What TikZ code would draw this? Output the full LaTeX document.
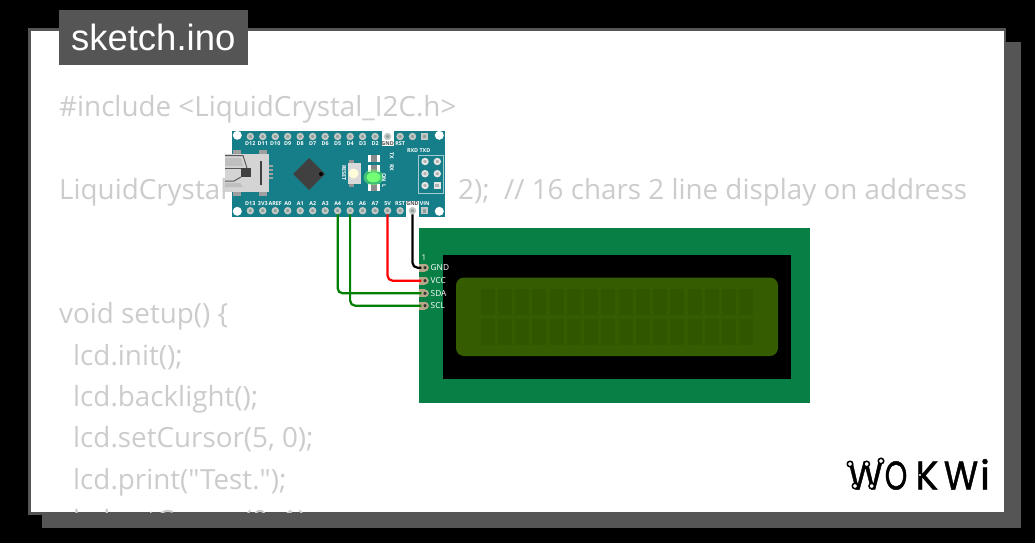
\documentclass[tikz,border=0pt]{standalone}
\usepackage{fontspec}
\setmainfont{Open Sans}
\newfontfamily\codefont{Open Sans}
\newfontfamily\titlefont{Liberation Sans}
\newfontfamily\logofont[FakeBold=1.2]{Poppins}
\definecolor{framegray}{HTML}{555555}
\definecolor{codegray}{HTML}{CCCCCC}
\definecolor{boardteal}{HTML}{167E88}
\definecolor{lcdgreen}{HTML}{087F45}
\definecolor{lcdscreen}{HTML}{355C00}
\definecolor{lcdchar}{HTML}{315600}
\definecolor{padtan}{HTML}{B5A98A}
\definecolor{pingray}{HTML}{C4C8C4}
\definecolor{pincore}{HTML}{8FA0A0}
\definecolor{usbgray}{HTML}{D4D4D4}
\definecolor{wiregreen}{HTML}{008000}
\tikzset{
  code/.style={anchor=base west,inner sep=0pt,text=codegray,font=\codefont\fontsize{27.8}{32}\selectfont},
  pinhole/.style={circle,draw=pingray,fill=pincore,line width=1.8pt,minimum size=5.5pt,inner sep=0pt},
  pinsquare/.style={rectangle,draw=pingray,fill=pincore,line width=1.8pt,minimum size=5.5pt,inner sep=0pt},
  silk/.style={text=white,inner sep=0pt,font=\fontsize{5.4}{5.4}\selectfont\bfseries},
  lcdpad/.style={circle,fill=black!80,draw=padtan,line width=2pt,minimum size=5.5pt,inner sep=0pt},
  lcdtext/.style={anchor=west,text=white,inner sep=0pt,font=\fontsize{8.3}{9}\selectfont},
  wire/.style={line width=2.2pt,rounded corners=5pt},
  mount/.style={circle,fill=white,minimum size=9pt,inner sep=0pt},
  logoletter/.style={anchor=base,inner sep=0pt,text=black,transform shape,font=\logofont\fontsize{40}{40}\selectfont},
  logotip/.style={circle,draw=black,fill=white,line width=1.5pt,minimum size=5.5pt,inner sep=0pt},
}
\begin{document}
\begin{tikzpicture}[x=1pt,y=-1pt]
\useasboundingbox (0,0) rectangle (1035,543);
\fill[black] (0,0) rectangle (1035,543);

% frame
\fill[framegray] (42,42) rectangle (1021,528);
\draw[framegray,line width=2.5pt,fill=white] (29.5,29.5) rectangle (1005,513.5);

% code
\begin{scope}
\clip (31,31) rectangle (1004,512);
\node[code] (inc) at (59,116) {\#include <LiquidCrystal\_I2C.h>};
\node[code] (lcdl) at (59,199) {LiquidCrystal};
\node[code] (lcdr) at (458,199) {2);\ \ // 16 chars 2 line display on address};
\node[code] (setup) at (59,323) {void setup() \{};
\node[code] (init) at (73,365) {lcd.init();};
\node[code] (back) at (73,406) {lcd.backlight();};
\node[code] (curs) at (73,447) {lcd.setCursor(5, 0);};
\node[code] (prnt) at (73,489) {lcd.print("Test.");};
\node[code] (curt) at (73,530) {lcd.setCursor(0, 1);};
\end{scope}

% title
\node[fill=framegray,draw=framegray,anchor=north west,minimum width=188pt,minimum height=54pt,inner sep=0pt,
  text=white,font=\titlefont\fontsize{36.5}{40}\selectfont] (title) at (59,10) {sketch.ino};

% lcd
\fill[lcdgreen] (419,228) rectangle (810,403);
\fill[black] (443,255) rectangle (791,379);
\fill[lcdscreen,rounded corners=8pt] (456,277.5) rectangle (778,356);
\foreach \c in {0,...,15} {
  \fill[lcdchar] (480.7+17.25*\c,288.5) rectangle +(14,26.5);
  \fill[lcdchar] (480.7+17.25*\c,318.5) rectangle +(14,26);
}
\node[text=white,inner sep=0pt,font=\fontsize{8}{8}\selectfont] (one) at (424,258) {1};
\foreach \n/\t/\y in {gnd/GND/267.7,vcc/VCC/280.7,sda/SDA/293.3,scl/SCL/305.7} {
  \fill[padtan] (419,\y-4) rectangle (425,\y+4);
  \node[lcdpad] (\n) at (425,\y) {};
  \node[lcdtext] (\n-text) at (430.5,\y) {\t};
}

% board
\fill[boardteal] (232,131) rectangle (445,217);
\foreach \n/\x/\y in {nw/237.3/135.3,sw/237.3/211.3,ne/439.3/135.3,se/439.3/211.3} {
  \node[mount] (\n) at (\x,\y) {};
}
\fill[white] (381.5,131) rectangle (394,146);
\fill[white] (406,201) rectangle (418.5,217);
\foreach \t [count=\i from 0] in {D12,D11,D10,D9,D8,D7,D6,D5,D4,D3,D2} {
  \node[pinhole] (top-\i) at (250.3+12.48*\i,136.5) {};
  \node[silk] (top-\i-text) at (250.3+12.48*\i,143.5) {\t};
}
\node[pinhole] (top-gnd) at (387.6,136.5) {};
\node[silk,text=black!70] (top-gnd-text) at (387.6,143.5) {GND};
\node[pinhole] (top-rst) at (400.1,136.5) {};
\node[silk] (top-rst-text) at (400.1,143.5) {RST};
\node[pinhole] (top-rx) at (412.5,136.5) {};
\node[pinsquare] (top-vin) at (424.6,136.5) {};
\node[silk] (rxtx) at (418.7,151) {RXD TXD};
\foreach \n/\t [count=\i from 0] in {d13/D13,v33/3V3,aref/AREF,a0/A0,a1/A1,a2/A2,a3/A3,a4/A4,a5/A5,a6/A6,a7/A7,v5/5V,rst/RST} {
  \node[pinhole] (\n) at (250.3+12.48*\i,210.7) {};
  \node[silk] (\n-text) at (250.3+12.48*\i,204) {\t};
}
\node[pinhole] (bgnd) at (412.5,210.7) {};
\node[silk,text=black!70] (bgnd-text) at (412.5,204) {GND};
\node[pinsquare] (vin) at (424.6,210.7) {};
\node[silk] (vin-text) at (424.6,204) {VIN};

% usb
\foreach \x in {233,259} {
  \fill[usbgray!75!black] (\x,150) rectangle +(8,4);
  \fill[usbgray!75!black] (\x,191) rectangle +(8,5);
}
\foreach \y in {165,169,173,177} {
  \fill[usbgray!75!black] (268,\y) rectangle +(5,2);
}
\fill[usbgray] (225,153.5) rectangle (268.5,191.5);
\draw[black!65,line width=1pt] (225,155.5) -- (243,155.5) -- (247,168);
\fill[black!25] (225,158) -- (241,158) -- (243,166) -- (225,166) -- cycle;
\draw[black!65,line width=1pt] (225,168) -- (241,168);
\fill[black!75] (241,167.5) rectangle (251,177);
\draw[black!65,line width=1pt] (241,177) -- (234,181) -- (225,181);
\fill[black!25] (225,183) -- (240,183) -- (243,187) -- (225,187) -- cycle;
\draw[black!75,line width=1.2pt] (261,161) -- (261,185);

% chip
\fill[black!75] (309,158) -- (325,174) -- (309,190) -- (293,174) -- cycle;
\fill[black] (321,174) circle (2);

% reset
\fill[usbgray!70!black] (349,160) rectangle (354,163);
\fill[usbgray!70!black] (349,184) rectangle (354,187);
\fill[black!15!white] (347.5,163) rectangle (360.5,184);
\fill[yellow!15!white] (353.5,173.5) circle (5);
\node[silk,rotate=-90] (reset) at (344,173) {RESET};

% leds
\foreach \y in {158,168,187.3} {
  \fill[white] (367.5,\y-3.5) rectangle (380,\y+3.5);
  \fill[black!45] (371,\y-3.5) rectangle (376.5,\y+3.5);
}
\fill[green!60!white,opacity=.5] (373.5,177.3) ellipse (10 and 8);
\fill[green!55!white] (373.5,177.3) ellipse (7 and 5);
\node[silk,rotate=-90] (tx) at (391.7,156) {TX};
\node[silk,rotate=-90] (rx) at (391.7,168) {RX};
\node[silk,rotate=-90] (on) at (384,178) {ON};
\node[silk,rotate=-90] (l) at (384,186.5) {L};

% icsp
\draw[white!60!boardteal,line width=.8pt] (418.3,155.3) rectangle (443.3,193);
\foreach \x/\y [count=\i] in {425/161.5,437.3/161.5,425/173.7,437.3/173.7,425/185.5} {
  \node[pinhole,draw=white!90!black,fill=white!70!black] (icsp-\i) at (\x,\y) {};
}
\node[pinsquare,draw=white!90!black,fill=white!70!black] (icsp-6) at (437.3,185.5) {};

% wires
\draw[wire,black] (bgnd) |- (gnd);
\draw[wire,red] (v5) |- (vcc);
\draw[wire,wiregreen] (a4) |- (sda);
\draw[wire,wiregreen] (a5) |- (scl);

% logo
\node[logoletter,xscale=.9] (logo-w) at (865.5,489.5) {W};
\node[logoletter,xscale=.72] (logo-o) at (896,489.5) {O};
\node[logoletter,xscale=.95] (logo-k) at (927,489.5) {K};
\node[logoletter,xscale=.88] (logo-x) at (961,489.5) {W};
\node[logoletter] (logo-i) at (985,489.5) {i};
\foreach \n/\x/\y in {a/850/464,b/866.7/464,c/881/461,d/855/486,e/871.7/486} {
  \node[logotip] (tip-\n) at (\x,\y) {};
}
\fill[white] (920,475) circle (1.2);
\end{tikzpicture}
\end{document}
